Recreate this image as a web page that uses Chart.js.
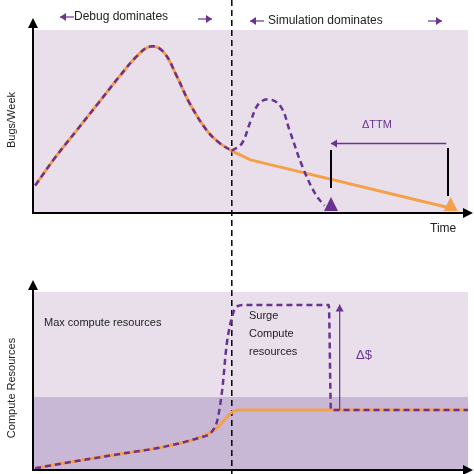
<!DOCTYPE html><html><head><script src="https://cdn.jsdelivr.net/npm/chart.js@4"></script>
<style>body{margin:0;background:#fff}canvas{position:absolute;left:0}</style></head><body>
<canvas id="c1" style="top:0" width="474" height="240"></canvas>
<canvas id="c2" style="top:240px" width="474" height="234"></canvas>
<script>
const bugX=[0.5,5,10,15,20,24,27,30,33,36,40,43,45.7];
const bugY=[15,30,45,60,75,86,91,88,75,60,45,38,34];
const orangeTailX=[45.7,50,95.4];
const orangeTailY=[34,29,3];
const purpleTailX=[45.7,48,50,52,54.5,57,59,62,65,67];
const purpleTailY=[34,38,50,60,62,58,45,25,10,4];
const compX=[0.5,10,20,30,38,42,44,46,48,52,60,80,100];
const compOrange=[1,5,9,13,18,23,28,33,33.7,33.7,33.7,33.7,33.7];
const surgeX=[0.5,10,20,30,38,42,43.5,44.5,46,47,49,68,68.5,100];
const surgeY=[1,5,9,13,18,25,45,70,88,92,92.7,92.7,33.7,33.7];
const ORANGE='#f5a04a',PURPLE='#6a3391';
const toXY=(xs,ys)=>xs.map((x,i)=>({x,y:ys[i]}));
function arrowH(ctx,x1,x2,y){ctx.beginPath();ctx.moveTo(x1,y);ctx.lineTo(x2,y);ctx.stroke();const d=Math.sign(x2-x1);ctx.beginPath();ctx.moveTo(x2,y);ctx.lineTo(x2-6*d,y-4);ctx.lineTo(x2-6*d,y+4);ctx.closePath();ctx.fill();}
function axes(ctx,a){ctx.save();ctx.strokeStyle='#000';ctx.fillStyle='#000';ctx.lineWidth=2;ctx.beginPath();ctx.moveTo(a.left,a.top-6);ctx.lineTo(a.left,a.bottom);ctx.lineTo(a.right,a.bottom);ctx.stroke();
ctx.beginPath();ctx.moveTo(a.left,a.top-12);ctx.lineTo(a.left-5,a.top-2);ctx.lineTo(a.left+5,a.top-2);ctx.fill();
ctx.beginPath();ctx.moveTo(a.right+5,a.bottom);ctx.lineTo(a.right-5,a.bottom-5);ctx.lineTo(a.right-5,a.bottom+5);ctx.fill();ctx.restore();}
const sc={x:{type:'linear',min:0,max:100,display:false},y:{min:0,max:100,display:false}};
const base={responsive:false,animation:false,plugins:{legend:{display:false},tooltip:{enabled:false}},scales:sc,elements:{point:{radius:0}}};
const top1={id:'t1',beforeDatasetsDraw(c){const {ctx,chartArea:a}=c;ctx.fillStyle='#e8dfeb';ctx.fillRect(a.left,a.top,a.right-a.left,a.bottom-a.top);
 const xs=c.scales.x,ys=c.scales.y;ctx.save();ctx.setLineDash([6,4]);ctx.strokeStyle='#000';ctx.lineWidth=1.5;const vx=xs.getPixelForValue(45.7);ctx.beginPath();ctx.moveTo(vx,0);ctx.lineTo(vx,240);ctx.stroke();ctx.restore();},
 afterDraw(c){const {ctx,chartArea:a}=c;const xs=c.scales.x,ys=c.scales.y;axes(ctx,a);ctx.save();
 ctx.font='12px "Liberation Sans"';ctx.fillStyle='#222';ctx.textBaseline='middle';ctx.fillText('Debug dominates',74,17);ctx.fillText('Simulation dominates',268,21);ctx.fillText('Time',430,229);
 ctx.strokeStyle=PURPLE;ctx.fillStyle=PURPLE;ctx.lineWidth=1.2;arrowH(ctx,74,60,17);arrowH(ctx,198,212,19);arrowH(ctx,264,250,21);arrowH(ctx,428,442,21);
 ctx.lineWidth=1.5;arrowH(ctx,xs.getPixelForValue(95),xs.getPixelForValue(68.5),ys.getPixelForValue(38));
 ctx.fillStyle='#6a3391';ctx.font='11px "Liberation Sans"';ctx.fillText('\u0394TTM',362,125);
 ctx.strokeStyle='#000';ctx.lineWidth=2;[[68.5,150,188],[95.4,148,196]].forEach(([x,y1,y2])=>{const px=xs.getPixelForValue(x);ctx.beginPath();ctx.moveTo(px,y1);ctx.lineTo(px,y2);ctx.stroke();});
 const tri=(x,col)=>{const px=xs.getPixelForValue(x),py=a.bottom-2;ctx.fillStyle=col;ctx.beginPath();ctx.moveTo(px,py-14);ctx.lineTo(px-7,py);ctx.lineTo(px+7,py);ctx.fill();};
 tri(68.5,PURPLE);tri(96,ORANGE);
 ctx.fillStyle='#222';ctx.font='11px "Liberation Sans"';ctx.translate(12,120);ctx.rotate(-Math.PI/2);ctx.textAlign='center';ctx.fillText('Bugs/Week',0,0);ctx.restore();}};
new Chart(document.getElementById('c1'),{type:'line',data:{datasets:[
 {data:toXY(orangeTailX,orangeTailY),borderColor:ORANGE,borderWidth:3,tension:0,order:2},
 {data:toXY(bugX,bugY),borderColor:ORANGE,borderWidth:3,tension:0.4,order:2},
 {data:toXY(bugX,bugY),borderColor:PURPLE,borderWidth:2.5,borderDash:[6,4],tension:0.4,order:1},
 {data:toXY(purpleTailX,purpleTailY),borderColor:PURPLE,borderWidth:2.5,borderDash:[6,4],tension:0.4,order:1}]},
 options:{...base,layout:{padding:{left:33,right:6,top:30,bottom:27}}},plugins:[top1]});
const top2={id:'t2',beforeDatasetsDraw(c){const {ctx,chartArea:a}=c;const ys=c.scales.y;const sy=ys.getPixelForValue(41);ctx.fillStyle='#e8dfeb';ctx.fillRect(a.left,a.top,a.right-a.left,sy-a.top);ctx.fillStyle='#c9b8d5';ctx.fillRect(a.left,sy,a.right-a.left,a.bottom-sy);
 ctx.save();ctx.setLineDash([6,4]);ctx.strokeStyle='#000';ctx.lineWidth=1.5;const vx=c.scales.x.getPixelForValue(45.7);ctx.beginPath();ctx.moveTo(vx,0);ctx.lineTo(vx,234);ctx.stroke();ctx.restore();},
 afterDraw(c){const {ctx,chartArea:a}=c;const xs=c.scales.x,ys=c.scales.y;axes(ctx,a);ctx.save();
 ctx.font='11px "Liberation Sans"';ctx.fillStyle='#222';ctx.textBaseline='middle';ctx.fillText('Max compute resources',44,83);
 ['Surge','Compute','resources'].forEach((t,i)=>ctx.fillText(t,249,76+i*18));
 ctx.strokeStyle=PURPLE;ctx.fillStyle=PURPLE;ctx.lineWidth=1.2;const px=xs.getPixelForValue(70.5);const y1=ys.getPixelForValue(33.7),y2=ys.getPixelForValue(93);
 ctx.beginPath();ctx.moveTo(px,y1);ctx.lineTo(px,y2);ctx.stroke();ctx.beginPath();ctx.moveTo(px,y2);ctx.lineTo(px-4,y2+7);ctx.lineTo(px+4,y2+7);ctx.fill();
 ctx.font='13px "Liberation Sans"';ctx.fillText('\u0394$',356,115);
 ctx.fillStyle='#222';ctx.font='11px "Liberation Sans"';ctx.translate(12,148);ctx.rotate(-Math.PI/2);ctx.textAlign='center';ctx.fillText('Compute Resources',0,0);ctx.restore();}};
new Chart(document.getElementById('c2'),{type:'line',data:{datasets:[
 {data:toXY(compX,compOrange),borderColor:ORANGE,borderWidth:3,cubicInterpolationMode:'monotone',order:2},
 {data:toXY(surgeX,surgeY),borderColor:PURPLE,borderWidth:2.5,borderDash:[6,4],cubicInterpolationMode:'monotone',order:1}]},
 options:{...base,layout:{padding:{left:33,right:6,top:52,bottom:4}}},plugins:[top2]});
</script></body></html>
